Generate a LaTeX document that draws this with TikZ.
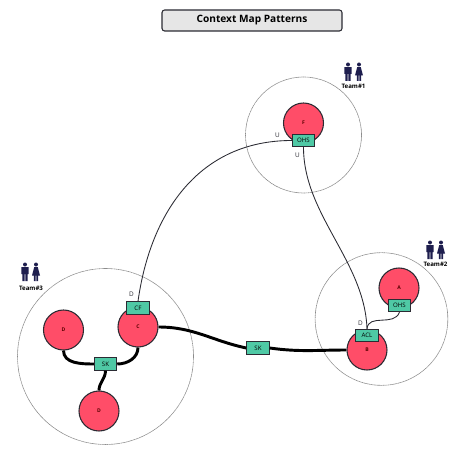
\documentclass[tikz,border=0pt]{standalone}
\usepackage{fontspec}
\setmainfont{Open Sans}
\usetikzlibrary{arrows.meta, positioning}
\definecolor{ContextRed}{HTML}{FF4D68}
\definecolor{PatternTeal}{HTML}{4FC9A5}
\definecolor{TitleGray}{HTML}{E6E6E6}
\definecolor{IconNavy}{HTML}{1E1E4E}
\definecolor{EdgeDark}{HTML}{2B2B33}
\tikzset{
  titlebox/.style={draw=EdgeDark, thick, rounded corners=2pt, fill=TitleGray,
    minimum width=135pt, minimum height=15.75pt, inner sep=0pt, font=\fontsize{7.6}{9}\bfseries},
  teamring/.style={circle, draw=gray!90, dash pattern=on 1pt off 0.3pt, line width=0.45pt, inner sep=0pt},
  context/.style={circle, draw=EdgeDark, thick, fill=ContextRed, minimum size=30pt,
    inner sep=0pt, text=red!35!black, font=\fontsize{3.8}{4}\bfseries},
  patternbox/.style={draw=EdgeDark, semithick, fill=PatternTeal, minimum width=17pt,
    minimum height=9.4pt, inner sep=0pt, font=\fontsize{4.6}{5}\selectfont},
  teamlabel/.style={inner sep=0pt, font=\fontsize{4.6}{5}\bfseries},
  sidelabel/.style={inner sep=0pt, text=EdgeDark, font=\fontsize{4.8}{5}\selectfont},
  rel/.style={draw=EdgeDark, line width=0.65pt},
  partner/.style={draw=black, line width=2.2pt},
  man/.pic={
    \fill[IconNavy] (0,-7.5) circle (2);
    \fill[IconNavy] (-3.6,-4.8) rectangle (3.6,2) (-2.6,2) rectangle (-0.3,9) (0.3,2) rectangle (2.6,9);
  },
  woman/.pic={
    \fill[IconNavy] (0,-7.5) circle (2);
    \fill[IconNavy] (-1.8,-4.8) -- (1.8,-4.8) -- (4,3.5) -- (-4,3.5) -- cycle
      (-2.2,3.5) rectangle (-0.3,9) (0.3,3.5) rectangle (2.2,9);
  },
}
\begin{document}
\begin{tikzpicture}[x=0.75pt, y=-0.75pt]
  \useasboundingbox (0,0) rectangle (474,463);
  % title
  \node[titlebox] (title) at (252,20.5) {Context Map Patterns};
  % teams
  \node[teamring, minimum size=87pt] (team1) at (303.5,135) {};
  \node[teamring, minimum size=99.5pt] (team2) at (381.5,319) {};
  \node[teamring, minimum size=132pt] (team3) at (105.5,356.5) {};
  \pic at (348,72) {man};
  \pic at (359,72) {woman};
  \node[teamlabel] (label1) at (353.5,86) {Team\#1};
  \pic at (430,250) {man};
  \pic at (441,250) {woman};
  \node[teamlabel] (label2) at (435.5,264) {Team\#2};
  \pic at (25,272) {man};
  \pic at (36,272) {woman};
  \node[teamlabel] (label3) at (31,288) {Team\#3};
  % contexts
  \node[context] (ctxF) at (303.5,123) {F};
  \node[context] (ctxA) at (399,288) {A};
  \node[context] (ctxB) at (367,350) {B};
  \node[context] (ctxC) at (138,327) {C};
  \node[context] (ctxD) at (63.5,330) {D};
  \node[context] (ctxE) at (99,411) {D};
  % patterns
  \node[patternbox] (ohsF) at (303.5,140.5) {OHS};
  \node[patternbox] (ohsA) at (399.5,305.5) {OHS};
  \node[patternbox] (acl) at (367,335.5) {ACL};
  \node[patternbox] (cf) at (138,308) {CF};
  \node[patternbox] (skC) at (105.5,364) {SK};
  \node[patternbox] (skB) at (258,348) {SK};
  % relations
  \draw[rel] (ohsF.west) to[out=180, in=82, looseness=1.05] (cf.north);
  \draw[rel] (ohsF.south) to[out=-90, in=92, looseness=0.9] (acl.north);
  \draw[rel] (ohsA.south) to[out=-110, in=85, looseness=1.1] (acl.north);
  \draw[partner] (ctxC.east) to[out=0, in=168] (skB.west);
  \draw[partner] (skB.east) to[out=-8, in=180] (ctxB.west);
  \draw[partner] (ctxD.south) to[out=-90, in=180] (skC.west);
  \draw[partner] (ctxC.south) to[out=-90, in=0] (skC.east);
  \draw[partner] (skC.south) to[out=-90, in=90] (ctxE.north);
  % side labels
  \node[sidelabel] (u1) at (277.5,135) {U};
  \node[sidelabel] (u2) at (297.5,155) {U};
  \node[sidelabel] (d1) at (131.5,294.5) {D};
  \node[sidelabel] (d2) at (360.5,323) {D};
\end{tikzpicture}
\end{document}
